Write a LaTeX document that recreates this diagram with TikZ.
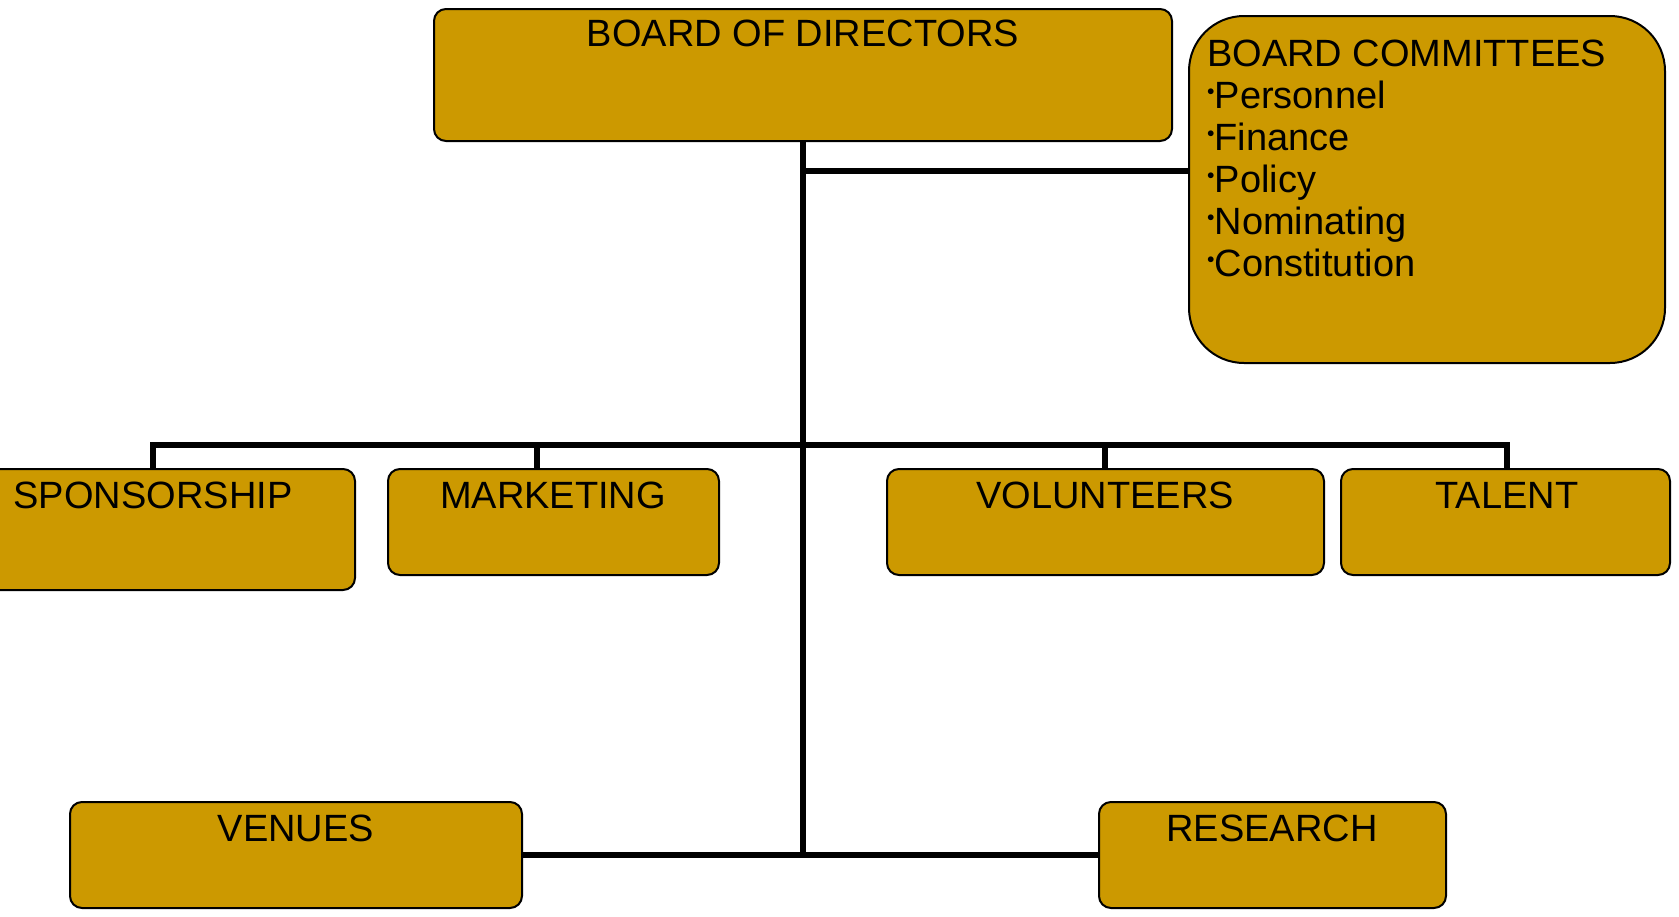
\documentclass[tikz,border=0pt]{standalone}
\usepackage{fontspec}
\setmainfont{Liberation Sans}
\begin{document}
\begin{tikzpicture}[x=1pt,y=-1pt,
  box/.style={draw=black,line width=2pt,fill=gold,rounded corners=12pt},
  lbl/.style={font=\fontsize{38}{42}\selectfont,anchor=north,inner sep=0pt},
  conn/.style={line width=6.5pt}]
\definecolor{gold}{HTML}{CC9900}
\useasboundingbox (0,0) rectangle (1679,916);
% connectors first
\coordinate (top) at (803,141);
\coordinate (cj) at (803,171);
\coordinate (bar) at (803,445);
\coordinate (bot) at (803,855);
\draw[conn] (top) -- (bot);
\draw[conn] (cj) -- (1189,171);
\draw[conn] (153,445) -- (1507,445);
\draw[conn] (153,442) -- (153,469);
\draw[conn] (537,442) -- (537,469);
\draw[conn] (1105,442) -- (1105,469);
\draw[conn] (1507,442) -- (1507,469);
\draw[conn] (522,855) -- (1099,855);
% boxes
\draw[box] (434,9) rectangle (1172,141);
\node[lbl] (bd) at (803,20) {BOARD OF DIRECTORS};
\draw[box,rounded corners=55pt] (1189,16) rectangle (1665,363);
\node[anchor=north west,inner sep=0pt,align=left,font=\fontsize{38}{42}\selectfont] (bc) at (1207,40)
 {BOARD COMMITTEES\\
 \raisebox{0.35em}{\scalebox{0.6}{$\bullet$}}Personnel\\
 \raisebox{0.35em}{\scalebox{0.6}{$\bullet$}}Finance\\
 \raisebox{0.35em}{\scalebox{0.6}{$\bullet$}}Policy\\
 \raisebox{0.35em}{\scalebox{0.6}{$\bullet$}}Nominating\\
 \raisebox{0.35em}{\scalebox{0.6}{$\bullet$}}Constitution};
\draw[box] (-30,469) rectangle (355,590);
\node[lbl] (sp) at (153,482) {SPONSORSHIP};
\draw[box] (388,469) rectangle (719,575);
\node[lbl] (mk) at (553,482) {MARKETING};
\draw[box] (887,469) rectangle (1324,575);
\node[lbl] (vo) at (1105,482) {VOLUNTEERS};
\draw[box] (1341,469) rectangle (1670,575);
\node[lbl] (ta) at (1507,482) {TALENT};
\draw[box] (70,802) rectangle (522,908);
\node[lbl] (ve) at (296,815) {VENUES};
\draw[box] (1099,802) rectangle (1446,908);
\node[lbl] (re) at (1272,815) {RESEARCH};
\end{tikzpicture}
\end{document}
